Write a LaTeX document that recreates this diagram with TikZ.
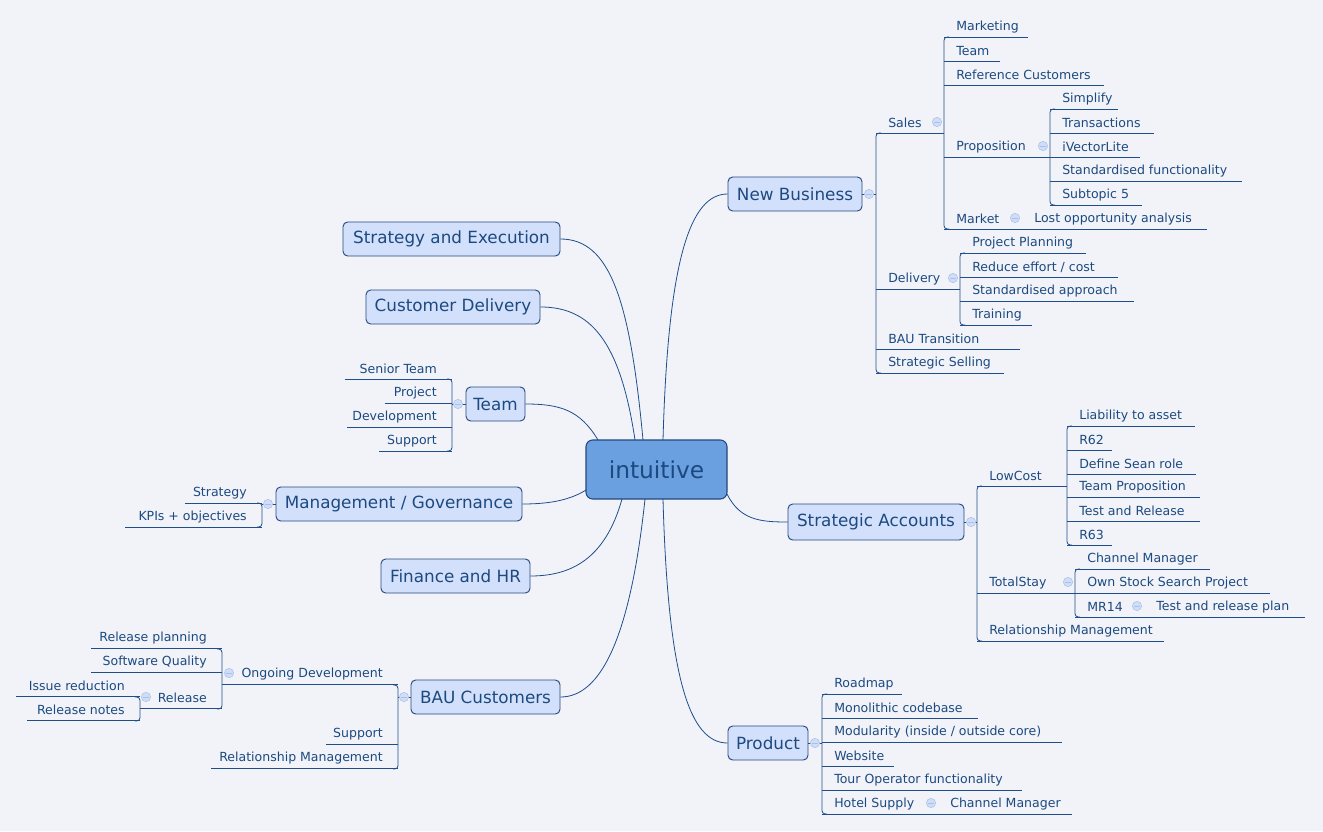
\documentclass[tikz,border=0pt]{standalone}
\usepackage{fontspec}
\setmainfont{DejaVu Sans}
\definecolor{bg}{HTML}{F2F3F9}
\definecolor{ln}{HTML}{1F4E8A}
\definecolor{tx}{HTML}{1C4A80}
\definecolor{bxf}{HTML}{D3E0FB}
\definecolor{bxd}{HTML}{24487E}
\definecolor{cf}{HTML}{6A9FE0}
\definecolor{ccf}{HTML}{CFDDF6}
\definecolor{ccd}{HTML}{A9C1EA}
\tikzset{
 lt/.style={inner sep=0pt,text=tx,font=\fontsize{9.4}{10}\selectfont},
 lk/.style={draw=ln,line width=0.6pt},
 br/.style={draw=ln,line width=0.6pt,rounded corners=2.5},
 box/.style={draw=bxd,fill=bxf,rounded corners=3.5,line width=0.7pt,text=tx,font=\fontsize{12.6}{14}\selectfont,inner sep=0pt},
 cc/.style={circle,draw=ccd,fill=ccf,minimum size=7pt,inner sep=0pt,path picture={\draw[ccd,line width=0.6pt] ([xshift=-2pt]path picture bounding box.center)--([xshift=2pt]path picture bounding box.center);}},
 cv/.style={draw=ln,line width=0.6pt},
}
\newcommand\RL[5]{\node[lt,anchor=west] (#1) at ({#2+12},{#3+1}) {#5};\draw[lk] (#2,{#3+11}) -- (#4,{#3+11});}
\newcommand\LL[5]{\node[lt,anchor=east] (#1) at ({#2-15},{#3+1}) {#5};\draw[lk] (#4,{#3+11}) -- (#2,{#3+11});}
\newcommand\BR[3]{\draw[br] ({#1+5},#2) -- (#1,#2) -- (#1,#3) -- ({#1+5},#3);}
\newcommand\BL[3]{\draw[br] ({#1-5},#2) -- (#1,#2) -- (#1,#3) -- ({#1-5},#3);}
\newcommand\BX[6]{\node[box,minimum width={(#4-#2)*0.75pt},minimum height={(#5-#3)*0.75pt}] (#1) at ({(#2+#4)/2},{(#3+#5)/2}) {#6};}
\begin{document}
\begin{tikzpicture}[x=0.75pt,y=-0.75pt]
\fill[bg] (0,0) rectangle (1323,831);
\useasboundingbox (0,0) rectangle (1323,831);
% central
\node[draw=bxd,fill=cf,rounded corners=5,line width=0.8pt,minimum width={141*0.75pt},minimum height={59*0.75pt},text=tx,font=\fontsize{17.5}{19}\selectfont] (c) at (656.5,469.5) {intuitive};
% main boxes
\BX{nb}{728}{177}{862}{211}{New Business}
\BX{sa}{788}{504}{964}{540}{Strategic Accounts}
\BX{pr}{728}{726}{808}{760}{Product}
\BX{se}{343}{222}{560}{256}{Strategy and Execution}
\BX{cd}{366}{290}{540}{324}{Customer Delivery}
\BX{tm}{466}{387}{525}{421}{Team}
\BX{mg}{276}{487}{522}{521}{Management / Governance}
\BX{fh}{381}{559}{530}{593}{Finance and HR}
\BX{bau}{411}{680}{560}{714}{BAU Customers}
% curves
\draw[cv] (663,440) .. controls (668,260) and (690,194) .. (nb.west);
\draw[cv] (727,494) .. controls (740,520) and (760,522) .. (sa.west);
\draw[cv] (663,499) .. controls (668,680) and (690,743) .. (pr.west);
\draw[cv] (643,440) .. controls (630,300) and (610,239) .. (se.east);
\draw[cv] (635,440) .. controls (620,340) and (590,307) .. (cd.east);
\draw[cv] (598,440) .. controls (580,410) and (560,404) .. (tm.east);
\draw[cv] (586,490) .. controls (570,500) and (550,504) .. (mg.east);
\draw[cv] (622,499) .. controls (605,560) and (570,576) .. (fh.east);
\draw[cv] (645,499) .. controls (630,640) and (600,697) .. (bau.east);
% ---------- New Business
\draw[lk] (nb.east) -- (876,194);
\node[cc] (nbc) at (869,194) {};
\BR{876}{133}{373}
\RL{sales}{876}{122}{944}{Sales} \node[cc] (salesc) at (937,122) {};
\BR{944}{37}{229}
\RL{mk}{944}{26}{1028}{Marketing}
\RL{team}{944}{50}{1000}{Team}
\RL{rc}{944}{74}{1104}{Reference Customers}
\RL{prop}{944}{146}{1050}{Proposition} \node[cc] (propc) at (1043,146) {};
\RL{mkt}{944}{218}{1207}{Market} \node[cc] (mktc) at (1015,218) {};
\node[lt,anchor=west] (loa) at (1034,219) {Lost opportunity analysis};
\BR{1050}{109}{205}
\RL{simp}{1050}{98}{1118}{Simplify}
\RL{tran}{1050}{122}{1154}{Transactions}
\RL{ivl}{1050}{146}{1140}{iVectorLite}
\RL{stf}{1050}{170}{1242}{Standardised functionality}
\RL{st5}{1050}{194}{1142}{Subtopic 5}
\RL{del}{876}{278}{960}{Delivery} \node[cc] (delc) at (953,278) {};
\BR{960}{253}{325}
\RL{pp}{960}{242}{1086}{Project Planning}
\RL{re}{960}{266}{1118}{Reduce effort / cost}
\RL{sap}{960}{290}{1134}{Standardised approach}
\RL{trn}{960}{314}{1032}{Training}
\RL{baut}{876}{338}{1020}{BAU Transition}
\RL{ss}{876}{362}{1004}{Strategic Selling}
% ---------- Strategic Accounts
\draw[lk] (sa.east) -- (977,522);
\node[cc] (sac) at (971,522) {};
\BR{977}{486}{641}
\RL{lc}{977}{475}{1067}{LowCost}
\BR{1067}{426}{545}
\RL{lia}{1067}{415}{1195}{Liability to asset}
\RL{r62}{1067}{439}{1112}{R62}
\RL{dsr}{1067}{463}{1196}{Define Sean role}
\RL{tp}{1067}{486}{1200}{Team Proposition}
\RL{tr}{1067}{510}{1200}{Test and Release}
\RL{r63}{1067}{534}{1112}{R63}
\RL{ts}{977}{582}{1075}{TotalStay} \node[cc] (tsc) at (1068,582) {};
\BR{1075}{569}{617}
\RL{chm}{1075}{558}{1210}{Channel Manager}
\RL{oss}{1075}{582}{1270}{Own Stock Search Project}
\RL{mr}{1075}{606}{1305}{MR14} \node[cc] (mrc) at (1137,606) {};
\node[lt,anchor=west] (trp) at (1156,607) {Test and release plan};
\RL{rm}{977}{630}{1164}{Relationship Management}
% ---------- Product
\draw[lk] (pr.east) -- (822,743);
\node[cc] (prc) at (815,743) {};
\BR{822}{694}{814}
\RL{rmap}{822}{683}{902}{Roadmap}
\RL{mono}{822}{707}{978}{Monolithic codebase}
\RL{mod}{822}{731}{1062}{Modularity (inside / outside core)}
\RL{web}{822}{755}{894}{Website}
\RL{tof}{822}{779}{1022}{Tour Operator functionality}
\RL{hs}{822}{803}{1072}{Hotel Supply} \node[cc] (hsc) at (931,803) {};
\node[lt,anchor=west] (hcm) at (950,804) {Channel Manager};
% ---------- Team
\draw[lk] (tm.west) -- (452,404);
\node[cc] (tmc) at (458,404) {};
\BL{452}{379}{451}
\LL{sen}{452}{368}{345}{Senior Team}
\LL{prj}{452}{392}{385}{Project}
\LL{dev}{452}{416}{347}{Development}
\LL{sup}{452}{440}{379}{Support}
% ---------- Management
\draw[lk] (mg.west) -- (262,504);
\node[cc] (mgc) at (268,504) {};
\BL{262}{503}{527}
\LL{strat}{262}{492}{185}{Strategy}
\LL{kpi}{262}{516}{125}{KPIs + objectives}
% ---------- BAU
\draw[lk] (bau.west) -- (398,697);
\node[cc] (bauc) at (404,697) {};
\BL{398}{685}{769}
\LL{ogd}{398}{673}{222}{Ongoing Development} \node[cc] (ogdc) at (229,673) {};
\LL{bsup}{398}{733}{326}{Support}
\LL{brm}{398}{757}{211}{Relationship Management}
\BL{222}{649}{709}
\LL{rp}{222}{637}{91}{Release planning}
\LL{sq}{222}{661}{91}{Software Quality}
\LL{rel}{222}{697}{140}{Release} \node[cc] (relc) at (146,697) {};
\BL{140}{697}{721}
\LL{ir}{140}{685}{16}{Issue reduction}
\LL{rn}{140}{709}{27}{Release notes}
\end{tikzpicture}
\end{document}
